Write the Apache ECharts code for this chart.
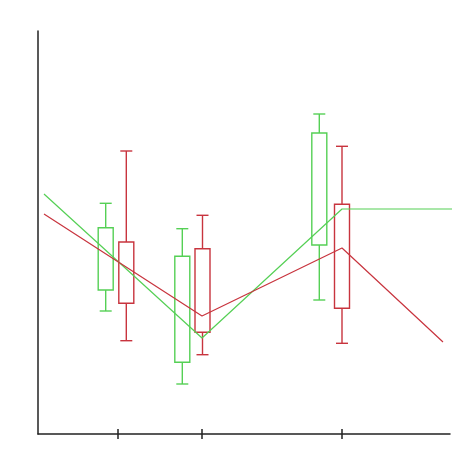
<!DOCTYPE html>
<html>
<head>
<meta charset="utf-8">
<script src="https://cdn.jsdelivr.net/npm/echarts@6/dist/echarts.min.js"></script>
<style>html,body{margin:0;padding:0;background:#fff}#c{width:474px;height:474px}</style>
</head>
<body>
<div id="c"></div>
<script>
// x tick positions
var xTicks = [80, 164, 304];
// boxes: [x, whiskerLow, boxLow, boxHigh, whiskerHigh]
var greenBoxes = [
  [67.7, 123, 144, 206.3, 230.7],
  [144.3, 50, 71.7, 177.7, 205.3],
  [281.3, 134, 189, 301, 320]
];
var redBoxes = [
  [88.3, 93.3, 130.7, 192, 283],
  [164.5, 79.3, 101.7, 185.3, 218.7],
  [304, 90.7, 125.7, 229.7, 287.7]
];
// lines: [x, y]
var greenLine = [[6, 240], [164, 96], [304, 225], [414, 225]];
var redLine = [[6, 220], [164, 118], [304, 186], [405, 92]];

var GREEN = '#55d055';
var RED = '#c8343e';

function boxRenderer(color) {
  return function (params, api) {
    var x = api.value(0);
    var pl = api.coord([x, api.value(1)]);
    var pb = api.coord([x, api.value(2)]);
    var pt = api.coord([x, api.value(3)]);
    var ph = api.coord([x, api.value(4)]);
    var cx = pl[0];
    var hw = 7.5, cw = 6;
    var st = { stroke: color, lineWidth: 1.4, fill: null };
    return {
      type: 'group',
      children: [
        { type: 'line', shape: { x1: cx, y1: ph[1], x2: cx, y2: pt[1] }, style: st },
        { type: 'line', shape: { x1: cx - cw, y1: ph[1], x2: cx + cw, y2: ph[1] }, style: st },
        { type: 'rect', shape: { x: cx - hw, y: pt[1], width: 2 * hw, height: pb[1] - pt[1] }, style: st },
        { type: 'line', shape: { x1: cx, y1: pb[1], x2: cx, y2: pl[1] }, style: st },
        { type: 'line', shape: { x1: cx - cw, y1: pl[1], x2: cx + cw, y2: pl[1] }, style: st }
      ]
    };
  };
}

var chart = echarts.init(document.getElementById('c'), null, { renderer: 'canvas' });
var axisLineStyle = { color: '#222', width: 1.5 };
chart.setOption({
  animation: false,
  backgroundColor: '#fff',
  grid: { left: 38, right: 24, top: 31, bottom: 40 },
  xAxis: [
    {
      type: 'value', min: 0, max: 412, position: 'bottom',
      splitLine: { show: false },
      axisLine: { show: true, onZero: false, lineStyle: axisLineStyle },
      axisTick: { show: true, length: 5, customValues: xTicks, lineStyle: axisLineStyle },
      axisLabel: { show: false }
    },
    {
      type: 'value', min: 0, max: 412, position: 'bottom',
      splitLine: { show: false },
      axisLine: { show: false, onZero: false },
      axisTick: { show: true, inside: true, length: 5, customValues: xTicks, lineStyle: axisLineStyle },
      axisLabel: { show: false }
    }
  ],
  yAxis: {
    type: 'value', min: 0, max: 403,
    splitLine: { show: false },
    axisLine: { show: true, onZero: false, lineStyle: axisLineStyle },
    axisTick: { show: false },
    axisLabel: { show: false }
  },
  series: [
    { type: 'custom', renderItem: boxRenderer(GREEN), data: greenBoxes, encode: { x: 0, y: [1, 2, 3, 4] }, clip: false },
    { type: 'custom', renderItem: boxRenderer(RED), data: redBoxes, encode: { x: 0, y: [1, 2, 3, 4] }, clip: false },
    { type: 'line', data: greenLine, symbol: 'none', clip: false, lineStyle: { color: GREEN, width: 1.2 } },
    { type: 'line', data: redLine, symbol: 'none', clip: false, lineStyle: { color: RED, width: 1.2 } }
  ]
});
</script>
</body>
</html>
